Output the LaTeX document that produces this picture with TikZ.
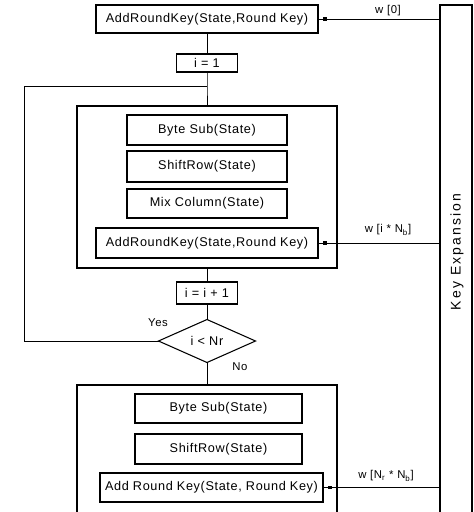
\documentclass[tikz,border=0pt]{standalone}
\usepackage{fontspec}
\setmainfont{Liberation Sans}
\usetikzlibrary{shapes.geometric}
\newcommand\boxfont{\fontsize{9.5}{11}\selectfont\addfontfeature{LetterSpace=5}}
\newcommand\lblfont{\fontsize{8.5}{10}\selectfont\addfontfeature{LetterSpace=5}}
\newcommand\kefont{\fontsize{10.5}{12}\selectfont\addfontfeature{LetterSpace=15}}
\begin{document}
\begin{tikzpicture}[x=0.75pt,y=-0.75pt,
  box/.style={draw, line width=0.8pt, inner sep=0pt, outer sep=0pt, font=\boxfont},
  bigbox/.style={draw, line width=1.3pt, inner sep=0pt, outer sep=0pt},
  decision/.style={draw, diamond, aspect=2.2, line width=0.8pt, inner sep=0pt, outer sep=0pt,
    minimum width=72.75pt, minimum height=32.25pt, font=\boxfont},
  wire/.style={line width=0.7pt},
  tap/.style={rectangle, fill, inner sep=0pt, minimum size=2.6pt},
  lbl/.style={font=\lblfont, inner sep=0pt}]
\useasboundingbox (0,0) rectangle (474,512);
\fill[white] (0,0) rectangle (474,512);

% large frames
\node[bigbox, minimum width=195pt, minimum height=121.5pt] (big1) at (207,187) {};
\node[bigbox, minimum width=195pt, minimum height=108.75pt] (big2) at (207,457.5) {};
\node[bigbox, minimum width=24pt, minimum height=393.75pt] (keyexp) at (456,267.5) {};
\node[rotate=90, font=\kefont, inner sep=0pt] (ketext) at (457,252) {Key Expansion};

% steps
\node[box, minimum width=166.5pt, minimum height=21pt] (ark0) at (207,19) {AddRoundKey(State,Round Key)};
\node[box, minimum width=45.75pt, minimum height=13.5pt] (i1) at (207,63) {i = 1};
\node[box, minimum width=120pt, minimum height=22.5pt] (bs1) at (207,130) {Byte Sub(State)};
\node[box, minimum width=120pt, minimum height=23.25pt] (sr1) at (207,166.5) {ShiftRow(State)};
\node[box, minimum width=120pt, minimum height=21.75pt] (mc) at (207,203.5) {Mix Column(State)};
\node[box, minimum width=166.5pt, minimum height=22.5pt] (ark1) at (207,243) {AddRoundKey(State,Round Key)};
\node[box, minimum width=45.75pt, minimum height=16.5pt] (inc) at (207,293) {i = i + 1};
\node[decision] (dia) at (207,341) {i < Nr};
\node[box, minimum width=125.25pt, minimum height=21.75pt] (bs2) at (218.5,408.5) {Byte Sub(State)};
\node[box, minimum width=125.25pt, minimum height=22.5pt] (sr2) at (218.5,449) {ShiftRow(State)};
\node[box, minimum width=167.25pt, minimum height=21.75pt] (ark2) at (211.5,487.5) {Add Round Key(State, Round Key)};

% labels
\node[lbl] (yes) at (158,323) {Yes};
\node[lbl] (no) at (240,367) {No};
\node[lbl] (w0) at (388,11) {w [0]};
\node[lbl] (wi) at (388,230) {w [i * N\textsubscript{b}]};
\node[lbl] (wn) at (386,476) {w [N\textsubscript{r} * N\textsubscript{b}]};

% flow
\coordinate (join) at (207,86);
\coordinate (loopL) at (24,86);
\draw[wire] (ark0.south) -- (i1.north);
\draw[wire] (i1.south) -- (join) -- (big1.north);
\draw[wire] (dia.west) -| (loopL) -- (join);
\draw[wire] (big1.south) -- (inc.north);
\draw[wire] (inc.south) -- (dia.north);
\draw[wire] (dia.south) -- (big2.north);

% round keys
\draw[wire] (ark0.east) -- (ark0.east -| keyexp.west);
\draw[wire] (ark1.east) -- (ark1.east -| keyexp.west);
\draw[wire] (ark2.east) -- (ark2.east -| keyexp.west);
\node[tap] (t0) at ([xshift=5.25pt]ark0.east) {};
\node[tap] (t1) at ([xshift=5.25pt]ark1.east) {};
\node[tap] (t2) at ([xshift=5.25pt]ark2.east) {};
\end{tikzpicture}
\end{document}
